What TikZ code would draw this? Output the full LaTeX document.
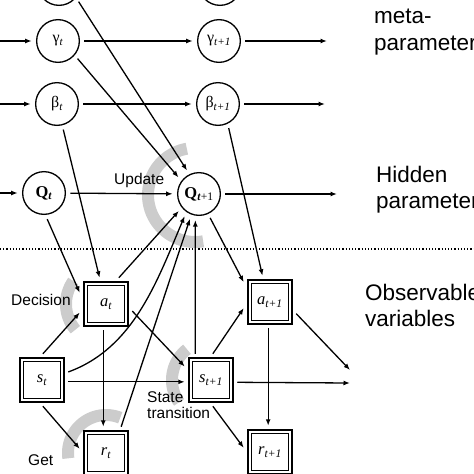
\documentclass[tikz,border=0pt]{standalone}
\usepackage{fontspec}
\setmainfont{Liberation Sans}
\newfontfamily\lbl{Liberation Serif}
\usetikzlibrary{arrows.meta}
\begin{document}
\begin{tikzpicture}[x=1pt,y=-1pt,
  conn/.style={-{Latex[length=6.5pt,width=5pt]}, line width=1.3pt},
  hid/.style={circle, draw, line width=1.3pt, minimum size=42.7pt, inner sep=0pt, outer sep=5pt, fill=white, font=\lbl\fontsize{16}{16}\selectfont},
  obs/.style={rectangle, draw, double, double distance=2pt, line width=1.3pt, minimum size=40.5pt, inner sep=0pt, outer sep=6pt, fill=white, font=\lbl\fontsize{16.5}{16.5}\selectfont},
  halo/.style={line width=12pt, draw=black!20},
  big/.style={font=\fontsize{22.5}{27}\selectfont, anchor=base west, inner sep=0pt},
  small/.style={font=\fontsize{15.5}{17}\selectfont, anchor=base west, inner sep=0pt}]
\useasboundingbox (0,0) rectangle (474,474);

% gray process arcs (behind everything); angles counter-clockwise on the page
\draw[halo] plot[domain=100:280, samples=60] ({195+47*cos(\x)}, {195-47*sin(\x)});
\draw[halo] plot[domain=145:220, samples=30] ({106+40*cos(\x)}, {304-40*sin(\x)});
\draw[halo] plot[domain=128:215, samples=30] ({211+39*cos(\x)}, {380-39*sin(\x)});
\draw[halo] plot[domain=68:188, samples=40] ({106+38*cos(\x)}, {453-38*sin(\x)});

% separator
\draw[line width=1.2pt, dash pattern=on 1.2pt off 2pt] (0,249) -- (474,249);

% hidden nodes
\node[hid] (m0) at (59,-16) {};
\node[hid] (m1) at (220,-16) {};
\node[hid] (g0) at (58,41) {γ\textsubscript{\itshape t}};
\node[hid] (g1) at (219,41) {γ\textsubscript{\itshape t+1}};
\node[hid] (b0) at (57,104) {β\textsubscript{\itshape t}};
\node[hid] (b1) at (218,104) {β\textsubscript{\itshape t+1}};
\node[hid, font=\lbl\fontsize{16.5}{16.5}\selectfont] (q0) at (44,193) {\textbf{Q}\textsubscript{\textbf{\itshape t}}};
\node[hid, font=\lbl\fontsize{16.5}{16.5}\selectfont] (q1) at (199,194) {\textbf{Q}\textsubscript{\textbf{\itshape t}+1}};

% observable nodes
\node[obs] (a0) at (106,304) {\textit{a}\textsubscript{\itshape t}};
\node[obs] (a1) at (270,302) {\textit{a}\textsubscript{\itshape t+1}};
\node[obs] (s0) at (42,380) {\textit{s}\textsubscript{\itshape t}};
\node[obs] (s1) at (211,380) {\textit{s}\textsubscript{\itshape t+1}};
\node[obs] (r0) at (106,453) {\textit{r}\textsubscript{\itshape t}};
\node[obs] (r1) at (270,452) {\textit{r}\textsubscript{\itshape t+1}};

% free ends
\coordinate (gin) at (0,41);
\coordinate (gout) at (327,41);
\coordinate (bin) at (0,104);
\coordinate (bout) at (325,104);
\coordinate (qin) at (0,193);
\coordinate (qout) at (337,194);
\coordinate (aout) at (350,370);
\coordinate (sout) at (350,383);

% horizontal chains
\draw[conn] (gin) -- (g0.west);
\draw[conn] (g0) -- (g1);
\draw[conn] (g1.east) -- (gout);
\draw[conn] (bin) -- (b0.west);
\draw[conn] (b0) -- (b1);
\draw[conn] (b1.east) -- (bout);
\draw[conn] (qin) -- (q0.west);
\draw[conn] (q0) -- (q1);
\draw[conn] (q1.east) -- (qout);

% into Q_{t+1}
\draw[conn] (m0.-42) -- (q1.117);
\draw[conn] (g0.-42) -- (q1.141);
\draw[conn] (a0.64) -- (q1.220);
\draw[conn] (s0.17) .. controls +(20:70pt) and +(247:70pt) .. (q1.237);
\draw[conn] (r0.60) -- (q1.250);
\draw[conn] (s1.121) -- (q1.262);

% into actions
\draw[conn] (b0) -- (a0);
\draw[conn] (q0.-83) -- (a0.157);
\draw[conn] (b1.-66) -- (a1.106);
\draw[conn] (q1.-65) -- (a1.143);

% observable layer
\draw[conn] (s0.88) -- (a0.198);
\draw[conn] (a0.-96) -- (r0.96);
\draw[conn] (s0.-88) -- (r0.171);
\draw[conn] (s0.-4) -- (s1.184);
\draw[conn] (a0.-15) -- (s1.153);
\draw[conn] (s1.86) -- (a1.193);
\draw[conn] (s1.-86) -- (r1.171);
\draw[conn] (a1.-94) -- (r1.94);
\draw[conn] (a1.-24) -- (aout);
\draw[conn] (s1.-5) -- (sout);

% texts
\node[big] (t1) at (374,23) {meta-};
\node[big] (t2) at (374,50) {parameters};
\node[big] (t3) at (376,182) {Hidden};
\node[big] (t4) at (376,208) {parameters};
\node[big] (t5) at (365,300) {Observable};
\node[big] (t6) at (365,326) {variables};
\node[small] (u) at (114,184) {Update};
\node[small] (d) at (11,305) {Decision};
\node[small] (st) at (147,402.5) {State};
\node[small] (tr) at (147,418.5) {transition};
\node[small] (get) at (28,465) {Get};
\end{tikzpicture}
\end{document}
